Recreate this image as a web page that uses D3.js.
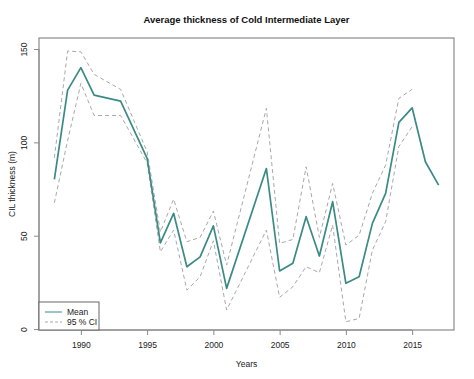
<!DOCTYPE html>
<html><head><meta charset="utf-8">
<script src="https://cdn.jsdelivr.net/npm/d3@7"></script>
<style>
html,body{margin:0;padding:0;background:#fff;}
svg{display:block;font-family:"Liberation Sans",Arial,Helvetica,sans-serif;}
</style></head>
<body>
<svg id="chart" width="474" height="379"></svg>
<script>
// Data
const years  = [1988, 1989, 1990, 1991, 1993, 1995, 1996, 1997, 1998, 1999, 2000, 2001, 2004, 2005, 2006, 2007, 2008, 2009, 2010, 2011, 2012, 2013, 2014, 2015, 2016, 2017];
const meanV  = [80.2, 128, 140, 125.3, 122.1, 91.4, 46.2, 62, 33.4, 38.7, 55.3, 21.8, 86, 31.1, 35.2, 60.2, 39.1, 68.2, 24.5, 28, 56.6, 72.7, 110.7, 118.5, 89.6, 77.1];
const upperV = [91.8, 148.9, 148.5, 136.4, 128.4, 95, 52, 69.6, 46.8, 49.1, 63.2, 34.3, 118.2, 45.9, 48, 86.9, 49.1, 78, 45, 50.3, 72.7, 87.8, 123.6, 128.4, null, null];
const lowerV = [67.6, 101, 131.6, 114.4, 114.4, 89, 41.4, 53, 20.9, 28, 47.3, 10.2, 53, 17, 22.7, 33.4, 30.2, 55.7, 3.9, 5.7, 42.3, 57.5, 97.8, 108.4, null, null];
const xTicks = [1990, 1995, 2000, 2005, 2010, 2015];
const yTicks = [0, 50, 100, 150];
const legendLabels = ["Mean", "95 % CI"];

const svg = d3.select("#chart");
const L = 39, R = 454, T = 38, B = 330;
const x = d3.scaleLinear().domain([1986.84, 2018.16]).range([L, R]);
const y = d3.scaleLinear().domain([-0.5, 155.9]).range([B, T]);

const meanCol = "#3a8a86", ciCol = "#a8a8a8", axisCol = "#8a8a8a";

// title
svg.append("text").attr("x", (L + R) / 2).attr("y", 23).attr("text-anchor", "middle")
  .attr("font-size", 9.5).attr("font-weight", "bold").attr("fill", "#111")
  .text("Average thickness of Cold Intermediate Layer");

// axes
const xAxis = d3.axisBottom(x).tickValues(xTicks).tickFormat(d3.format("d")).tickSize(5).tickPadding(7);
const gx = svg.append("g").attr("transform", `translate(0,${B})`).call(xAxis);
gx.select(".domain").attr("d", `M${x(xTicks[0])},0H${x(xTicks[xTicks.length-1])}`);
const yAxis = d3.axisLeft(y).tickValues(yTicks).tickSize(5).tickPadding(6);
const gy = svg.append("g").attr("transform", `translate(${L},0)`).call(yAxis);
gy.select(".domain").attr("d", `M0,${y(yTicks[0])}V${y(yTicks[yTicks.length-1])}`);
[gx, gy].forEach(g => {
  g.selectAll(".domain, line").attr("stroke", axisCol);
  g.selectAll("text").attr("font-size", 8.5).attr("fill", "#222")
   .attr("font-family", "'Liberation Sans', Arial, sans-serif");
});
gy.selectAll(".tick text").attr("x", 0).attr("y", 0).attr("dy", "0.32em")
  .attr("text-anchor", "middle").attr("transform", "translate(-15,0) rotate(-90)");

// plot box
svg.append("rect").attr("x", L).attr("y", T).attr("width", R - L).attr("height", B - T)
  .attr("fill", "none").attr("stroke", axisCol).attr("stroke-width", 1.2);

// axis titles
svg.append("text").attr("x", (L + R) / 2).attr("y", 367).attr("text-anchor", "middle")
  .attr("font-size", 8.5).attr("fill", "#222").text("Years");
svg.append("text").attr("transform", `translate(12,${(T + B) / 2}) rotate(-90)`)
  .attr("text-anchor", "middle").attr("dy", "0.32em")
  .attr("font-size", 8.5).attr("fill", "#222").text("CIL thickness (m)");

// lines
const idx = years.map((d, i) => i);
const lineOf = arr => d3.line().defined(i => arr[i] != null).x(i => x(years[i])).y(i => y(arr[i]));
svg.append("path").datum(idx).attr("d", lineOf(upperV)).attr("fill", "none")
  .attr("stroke", ciCol).attr("stroke-width", 1).attr("stroke-dasharray", "4,3");
svg.append("path").datum(idx).attr("d", lineOf(lowerV)).attr("fill", "none")
  .attr("stroke", ciCol).attr("stroke-width", 1).attr("stroke-dasharray", "4,3");
svg.append("path").datum(idx).attr("d", lineOf(meanV)).attr("fill", "none")
  .attr("stroke", meanCol).attr("stroke-width", 1.7).attr("stroke-linejoin", "round");

// legend
const lg = svg.append("g");
lg.append("rect").attr("x", L).attr("y", 302).attr("width", 60).attr("height", B - 302)
  .attr("fill", "#fff").attr("stroke", "#666").attr("stroke-width", 1);
legendLabels.forEach((lab, i) => {
  const yy = 312 + i * 10;
  lg.append("line").attr("x1", 45).attr("x2", 62).attr("y1", yy).attr("y2", yy)
    .attr("stroke", i === 0 ? meanCol : ciCol).attr("stroke-width", 1)
    .attr("stroke-dasharray", i === 0 ? null : "3,2");
  lg.append("text").attr("x", 67).attr("y", yy).attr("dy", "0.35em")
    .attr("font-size", 8.5).attr("fill", "#222").text(lab);
});
</script>
</body></html>
